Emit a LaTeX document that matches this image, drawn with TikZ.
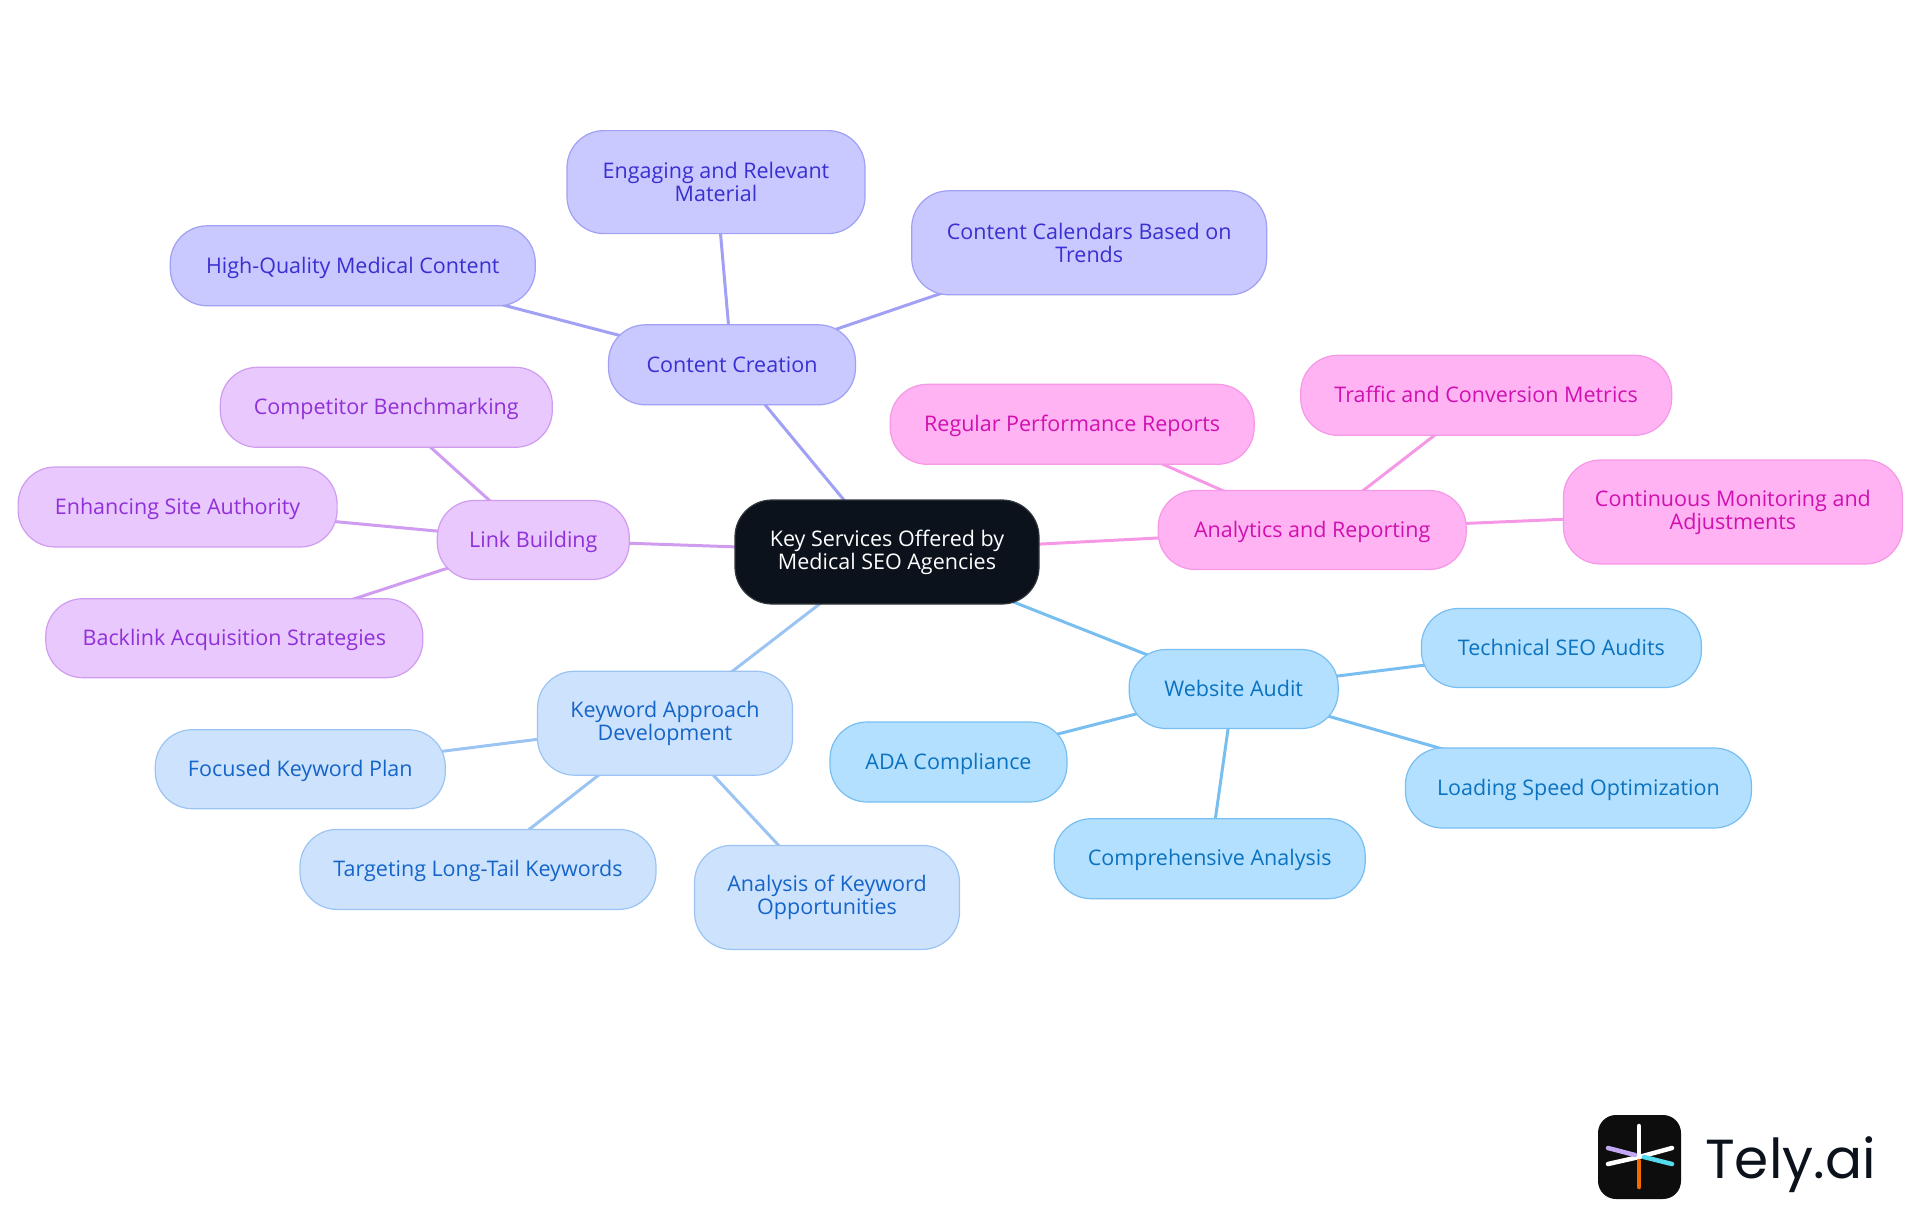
\documentclass[tikz,border=0pt]{standalone}
\usepackage{fontspec}
\setmainfont{Open Sans}
\newfontfamily\brandfont{Poppins}
\usetikzlibrary{positioning, backgrounds}

\definecolor{rootfill}{HTML}{0B121B}
\definecolor{contentfill}{HTML}{C9C9FF}
\definecolor{contentline}{HTML}{A0A0F5}
\definecolor{contenttext}{HTML}{3A2FD0}
\definecolor{linkfill}{HTML}{E8C8FD}
\definecolor{linkline}{HTML}{CF9CF0}
\definecolor{linktext}{HTML}{9030D8}
\definecolor{keywordfill}{HTML}{CDE2FD}
\definecolor{keywordline}{HTML}{9CC4F3}
\definecolor{keywordtext}{HTML}{1565C8}
\definecolor{auditfill}{HTML}{B3E0FE}
\definecolor{auditline}{HTML}{78BEF0}
\definecolor{audittext}{HTML}{0B72C0}
\definecolor{reportfill}{HTML}{FFB3F3}
\definecolor{reportline}{HTML}{F598E6}
\definecolor{reporttext}{HTML}{D010B0}
\definecolor{spokeviolet}{HTML}{C0A8F5}
\definecolor{spokecyan}{HTML}{55DCEC}
\definecolor{spokeorange}{HTML}{F56A00}

\begin{document}
\begin{tikzpicture}[
		x=1pt, y=1pt,
		base/.style={draw, rounded corners=37pt, align=center, inner sep=0pt, line width=1.2pt,
			font=\fontsize{21.5}{23}\selectfont},
		rootnode/.style={base, fill=rootfill, draw=rootfill!85!white, text=white},
		contentnode/.style={base, fill=contentfill, draw=contentline, text=contenttext},
		linknode/.style={base, fill=linkfill, draw=linkline, text=linktext},
		keywordnode/.style={base, fill=keywordfill, draw=keywordline, text=keywordtext},
		auditnode/.style={base, fill=auditfill, draw=auditline, text=audittext},
		reportnode/.style={base, fill=reportfill, draw=reportline, text=reporttext},
		size/.style n args={2}{minimum width=#1pt, minimum height=#2pt},
		single/.style={text height=17.5pt, text depth=3pt},
		branch/.style={line width=3pt},
		spoke/.style={line width=4.5pt, line cap=round}
		]
		\useasboundingbox (0,0) rectangle (1920,-1215);
		
		% --- Centre ---
		\node[rootnode, size={304}{104}] (root) at (887,-552) {Key Services Offered by\\Medical SEO Agencies};
		
		% --- Content Creation ---
		\node[contentnode, single, size={247}{80}] (content) [above=94pt of root, xshift=-155pt] {Content Creation};
		\node[contentnode, size={298}{103}] (engaging) [above=90pt of content, xshift=-16pt] {Engaging and Relevant\\Material};
		\node[contentnode, single, size={365}{80}] (quality) [left=72pt of content, yshift=99pt] {High-Quality Medical Content};
		\node[contentnode, size={355}{104}] (calendars) [right=55pt of content, yshift=122pt] {Content Calendars Based on\\Trends};
		
		% --- Link Building ---
		\node[linknode, single, size={192}{79}] (link) [left=104.5pt of root, yshift=12pt] {Link Building};
		\node[linknode, single, size={332}{80}] (competitor) [above=52pt of link, xshift=-147pt] {Competitor Benchmarking};
		\node[linknode, single, size={319}{80}] (authority) [left=99pt of link, yshift=33pt] {Enhancing Site Authority};
		\node[linknode, single, size={377}{79}] (backlink) [below=18pt of link, xshift=-299pt] {Backlink Acquisition Strategies};
		
		% --- Keyword Approach ---
		\node[keywordnode, size={255}{104}] (keyword) [below=66pt of root, xshift=-222pt] {Keyword Approach\\Development};
		\node[keywordnode, single, size={290}{79}] (focused) [left=91pt of keyword, yshift=-46pt] {Focused Keyword Plan};
		\node[keywordnode, single, size={356}{80}] (longtail) [below=53pt of keyword, xshift=-187pt] {Targeting Long-Tail Keywords};
		\node[keywordnode, size={265}{104}] (opportunities) [below=69pt of keyword, xshift=162pt] {Analysis of Keyword\\Opportunities};
		
		% --- Website Audit ---
		\node[auditnode, single, size={209}{79}] (audit) [right=89pt of root, yshift=-137pt] {Website Audit};
		\node[auditnode, single, size={280}{79}] (technical) [right=82pt of audit, yshift=41pt] {Technical SEO Audits};
		\node[auditnode, single, size={346}{80}] (loading) [right=66pt of audit, yshift=-99pt] {Loading Speed Optimization};
		\node[auditnode, single, size={311}{80}] (analysis) [below=89pt of audit, xshift=-24pt] {Comprehensive Analysis};
		\node[auditnode, single, size={237}{80}] (ada) [left=61pt of audit, yshift=-73pt] {ADA Compliance};
		
		% --- Analytics ---
		\node[reportnode, single, size={308}{79}] (report) [right=118pt of root, yshift=22pt] {Analytics and Reporting};
		\node[reportnode, single, size={364}{80}] (regular) [above=25pt of report, xshift=-240pt] {Regular Performance Reports};
		\node[reportnode, single, size={371}{80}] (traffic) [above=54pt of report, xshift=174pt] {Traffic and Conversion Metrics};
		\node[reportnode, size={339}{104}] (monitoring) [right=96pt of report, yshift=18pt] {Continuous Monitoring and\\Adjustments};
		
		% Branches run centre to centre, under the nodes
		\begin{scope}[on background layer]
			\draw[branch, contentline] (root.center) -- (content.center);
			\draw[branch, contentline] (content.center) -- (engaging.center);
			\draw[branch, contentline] (content.center) -- (quality.center);
			\draw[branch, contentline] (content.center) -- (calendars.center);
			\draw[branch, linkline] (root.center) -- (link.center);
			\draw[branch, linkline] (link.center) -- (competitor.center);
			\draw[branch, linkline] (link.center) -- (authority.center);
			\draw[branch, linkline] (link.center) -- (backlink.center);
			\draw[branch, keywordline] (root.center) -- (keyword.center);
			\draw[branch, keywordline] (keyword.center) -- (focused.center);
			\draw[branch, keywordline] (keyword.center) -- (longtail.center);
			\draw[branch, keywordline] (keyword.center) -- (opportunities.center);
			\draw[branch, auditline] (root.center) -- (audit.center);
			\draw[branch, auditline] (audit.center) -- (technical.center);
			\draw[branch, auditline] (audit.center) -- (loading.center);
			\draw[branch, auditline] (audit.center) -- (analysis.center);
			\draw[branch, auditline] (audit.center) -- (ada.center);
			\draw[branch, reportline] (root.center) -- (report.center);
			\draw[branch, reportline] (report.center) -- (regular.center);
			\draw[branch, reportline] (report.center) -- (traffic.center);
			\draw[branch, reportline] (report.center) -- (monitoring.center);
		\end{scope}
		
		% --- Logo ---
		\fill[black!95!white, rounded corners=18pt] (1598,-1115) rectangle (1681,-1199);
		\draw[spoke, white] (1639,-1157) -- (1639,-1126);
		\draw[spoke, white] (1639,-1157) -- (1672,-1148);
		\draw[spoke, white] (1639,-1157) -- (1608,-1164);
		\draw[spoke, spokeviolet] (1635,-1155) -- (1608,-1148);
		\draw[spoke, spokecyan] (1644,-1157) -- (1672,-1164);
		\draw[spoke, spokeorange] (1639,-1161) -- (1639,-1187);
		\node[anchor=base west, inner sep=0pt, text=rootfill, font=\brandfont\fontsize{55}{55}\selectfont] (brand) at (1705,-1178) {Tely.ai};
		
	\end{tikzpicture}
\end{document}
